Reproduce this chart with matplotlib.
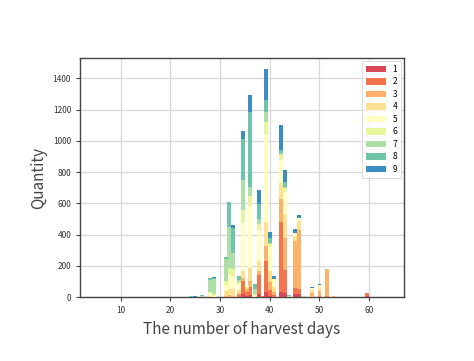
import numpy as np
import matplotlib
matplotlib.use('Agg')
from matplotlib import pyplot as plt

plt.rcParams['font.family'] = ['Noto Sans CJK JP', 'DejaVu Sans']

# bar centres (harvest days)
days = [22.6, 24.2, 25.0, 26.3, 28.0, 28.8, 31.15, 31.85, 32.6, 33.85, 34.65,
        35.4, 36.05, 36.95, 37.75, 38.45, 39.25, 40.05, 40.8, 42.2, 43.0,
        43.8, 45.05, 45.9, 46.7, 48.55, 50.0, 51.6, 53.0, 59.5]

# quantity per series, one entry per bar
q1 = [0, 0, 0, 0, 0, 0, 0, 0, 0, 0, 20, 5, 15, 0, 19, 0, 30, 8, 0, 30, 26,
      0, 18, 19, 0, 0, 0, 0, 0, 4]
q2 = [0, 0, 0, 0, 0, 0, 0, 0, 0, 15, 80, 30, 50, 0, 120, 5, 200, 40, 14, 450, 150,
      0, 40, 30, 0, 3, 5, 7, 3, 20]
q3 = [0, 0, 0, 0, 0, 0, 10, 15, 10, 10, 20, 15, 40, 0, 30, 3, 100, 50, 20, 150, 200,
      0, 300, 380, 0, 25, 35, 170, 5, 0]
q4 = [0, 0, 0, 0, 10, 0, 30, 40, 40, 20, 50, 15, 80, 0, 60, 0, 150, 70, 30, 100, 150,
      0, 30, 60, 0, 20, 23, 0, 0, 0]
q5 = [0, 0, 0, 0, 15, 10, 40, 90, 80, 40, 305, 12, 400, 10, 200, 0, 562, 150, 50, 150, 150,
      0, 20, 20, 0, 10, 10, 0, 0, 0]
q6 = [0, 0, 0, 0, 10, 10, 25, 40, 50, 10, 80, 0, 60, 10, 40, 0, 80, 20, 0, 30, 20,
      0, 0, 0, 0, 0, 5, 0, 0, 0]
q7 = [0, 0, 0, 8, 75, 95, 140, 265, 100, 15, 192, 0, 60, 30, 30, 0, 60, 10, 0, 10, 10,
      6, 0, 0, 6, 0, 0, 0, 0, 0]
q8 = [0, 5, 0, 4, 10, 10, 13, 160, 165, 24, 267, 0, 480, 33, 100, 0, 80, 30, 0, 20, 30,
      5, 0, 0, 4, 0, 0, 0, 0, 0]
q9 = [3, 0, 4, 0, 0, 5, 0, 0, 15, 0, 50, 0, 107, 0, 85, 0, 200, 40, 20, 160, 80,
      0, 25, 15, 0, 8, 5, 0, 0, 0]

series = [q1, q2, q3, q4, q5, q6, q7, q8, q9]
labels = ['1', '2', '3', '4', '5', '6', '7', '8', '9']
colors = ['#d53e4f', '#f46d43', '#fdae61', '#fee08b', '#ffffbf',
          '#e6f598', '#abdda4', '#66c2a5', '#3288bd']

fig = plt.figure(figsize=(4.74, 3.61), dpi=100)
ax = fig.add_axes([0.169, 0.177, 0.683, 0.662])

bottom = np.zeros(len(days))
for vals, lab, col in zip(series, labels, colors):
    vals = np.array(vals, dtype=float)
    ax.bar(days, vals, width=0.78, bottom=bottom, color=col, label=lab,
           alpha=0.95, zorder=3)
    bottom += vals

ax.set_xlim(1.8, 67)
ax.set_ylim(0, 1530)
ax.set_xticks([10, 20, 30, 40, 50, 60])
ax.set_yticks(range(0, 1401, 200))
ax.tick_params(labelsize=6, length=3, color='#444444', labelcolor='#333333')
ax.grid(True, color='#d8d8d8', linewidth=0.9, zorder=0)
for sp in ax.spines.values():
    sp.set_color('#444444')
    sp.set_linewidth(1.0)

ax.set_xlabel('The number of harvest days', fontsize=11, color='#444444')
ax.set_ylabel('Quantity', fontsize=11, color='#444444')

leg = ax.legend(loc='upper right', fontsize=6, frameon=True, handlelength=2.4,
                handleheight=0.8, labelspacing=0.42, borderpad=0.5,
                borderaxespad=0.3, fancybox=False, edgecolor='#cccccc',
                markerfirst=True)
leg.get_frame().set_linewidth(0.6)

fig.savefig('out.png', dpi=100)
